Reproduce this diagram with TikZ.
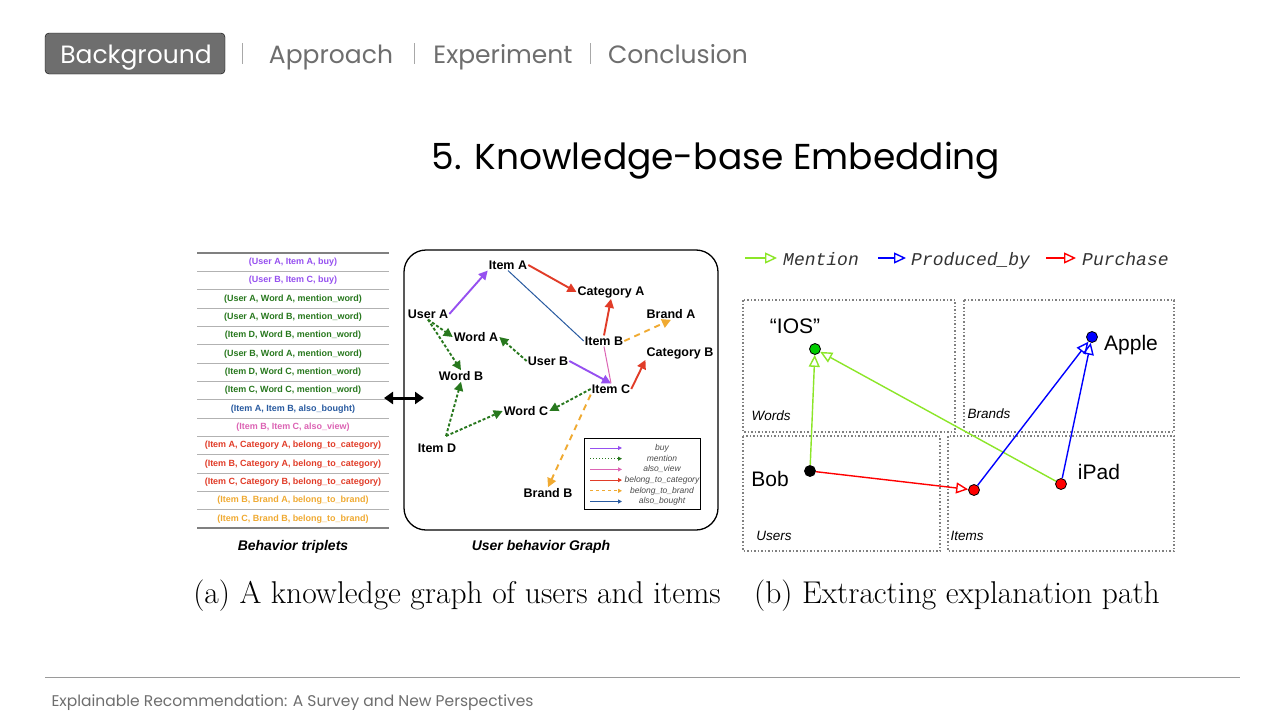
\documentclass[tikz,border=0pt]{standalone}
\usepackage{fontspec}
\newfontfamily\pop{Poppins}
\newfontfamily\lib{Liberation Sans}
\newfontfamily\cour{Liberation Mono}
\usetikzlibrary{arrows.meta}
\definecolor{hdr}{RGB}{110,110,110}
\definecolor{pur}{RGB}{150,80,240}
\definecolor{grn}{RGB}{40,120,30}
\definecolor{blu}{RGB}{40,90,160}
\definecolor{pnk}{RGB}{220,100,180}
\definecolor{rd}{RGB}{225,60,40}
\definecolor{org}{RGB}{240,170,50}
\definecolor{lgr}{RGB}{140,230,40}
\tikzset{
 trip/.style={font=\lib\bfseries\fontsize{10.5}{11}\selectfont},
 gn/.style={font=\lib\bfseries\fontsize{12.5}{13}\selectfont, inner sep=1pt},
 ar/.style={-{Triangle[length=9pt,width=9pt]}, line width=1.9pt},
 dsh/.style={ar, dashed, dash pattern=on 3pt off 2pt, grn},
 lg/.style={font=\lib\itshape\fontsize{8.5}{9}\selectfont},
 dot/.style={circle, draw=black, line width=0.8pt, minimum size=11pt, inner sep=0pt},
 ot/.style={-{Triangle[open,length=12pt,width=11pt]}, line width=1.4pt},
 box/.style={draw=gray, dotted, line width=1.5pt},
 pl/.style={font=\lib\itshape\fontsize{13.5}{14}\selectfont},
 bl/.style={font=\lib\fontsize{21}{21}\selectfont},
 hd/.style={text=hdr, font=\pop\fontsize{25}{25}\selectfont, anchor=base},
}
\begin{document}
\begin{tikzpicture}[x=1pt,y=-1pt]
\useasboundingbox[fill=white] (0,0) rectangle (1280,720);
% header
\draw[fill=hdr, rounded corners=4pt] (45,33) rectangle (225,74);
\node[hd, text=white] (bg) at (136,63) {Background};
\node[hd] (ap) at (331,63) {Approach};
\node[hd] (ex) at (503,63) {Experiment};
\node[hd] (co) at (678,63) {Conclusion};
\foreach \x in {242,414,590} \draw[hdr!60, line width=0.8pt] (\x,43) -- (\x,64);
\node[font=\pop\fontsize{36}{36}\selectfont, anchor=base] (title) at (716,169) {5. Knowledge-base Embedding};
\draw[hdr!70, line width=0.8pt] (45,677) -- (1240,677);
\node[anchor=base west, text=hdr, font=\pop\fontsize{15.5}{16}\selectfont] (foot) at (48,706) {Explainable Recommendation: A Survey and New Perspectives};
% triplet table
\foreach \i in {0,...,15} \draw[gray!60, line width=0.7pt] (197,253+\i*18.33) -- (389,253+\i*18.33);
\draw[gray, line width=1.3pt] (197,253) -- (389,253);
\draw[gray, line width=1.3pt] (197,528) -- (389,528);
\foreach \t/\c [count=\i from 0] in {
 {(User A, Item A, buy)}/pur, {(User B, Item C, buy)}/pur,
 {(User A, Word A, mention\_word)}/grn, {(User A, Word B, mention\_word)}/grn,
 {(Item D, Word B, mention\_word)}/grn, {(User B, Word A, mention\_word)}/grn,
 {(Item D, Word C, mention\_word)}/grn, {(Item C, Word C, mention\_word)}/grn,
 {(Item A, Item B, also\_bought)}/blu, {(Item B, Item C, also\_view)}/pnk,
 {(Item A, Category A, belong\_to\_category)}/rd, {(Item B, Category A, belong\_to\_category)}/rd,
 {(Item C, Category B, belong\_to\_category)}/rd,
 {(Item B, Brand A, belong\_to\_brand)}/org, {(Item C, Brand B, belong\_to\_brand)}/org}
 \node[trip, text=\c, inner sep=0pt] (t\i) at (293,262.2+\i*18.33) {\resizebox{!}{6.5pt}{\t}};
\node[font=\lib\bfseries\itshape\fontsize{14}{14}\selectfont] (cap1) at (293,547) {Behavior triplets};
\node[font=\lib\bfseries\itshape\fontsize{14}{14}\selectfont] (cap2) at (541,547) {User behavior Graph};
\coordinate (dl) at (384,398); \coordinate (dr) at (424,398);
\draw[{Triangle[length=9pt,width=12pt]}-{Triangle[length=9pt,width=12pt]}, line width=3pt] (dl) -- (dr);
% graph
\draw[line width=1.3pt, rounded corners=22pt] (404,250) rectangle (718,530);
\node[gn] (ia) at (508,265) {Item A};
\node[gn] (ca) at (611,292) {Category A};
\node[gn] (ua) at (428,314) {User A};
\node[gn] (wa) at (476,337) {Word A};
\node[gn] (ba) at (671,314) {Brand A};
\node[gn] (ib) at (604,341) {Item B};
\node[gn] (ub) at (548,361) {User B};
\node[gn] (cb) at (680,353) {Category B};
\node[gn] (wb) at (461,376) {Word B};
\node[gn] (ic) at (611,389) {Item C};
\node[gn] (wc) at (526,411) {Word C};
\node[gn] (id) at (437,448) {Item D};
\node[gn] (bb) at (548,493) {Brand B};
\draw[ar, pur] (ua.east) -- (ia.south west);
\draw[ar, pur] (ub.east) -- (ic.north);
\draw[ar, rd] (ia.east) -- (ca.west);
\draw[ar, rd] (ib.north) -- (ca.south);
\draw[ar, rd] (ic.east) -- (cb.south west);
\draw[line width=1pt, blu] (ia.south) -- (ib.west);
\draw[line width=1pt, pnk] (ib.south) -- (ic.north);
\draw[ar, org, dashed, dash pattern=on 6pt off 5pt] (ib.east) -- (ba.south);
\draw[ar, org, dashed, dash pattern=on 6pt off 5pt] (ic.south west) -- (bb.north);
\draw[dsh] (ua.south) -- (wa.west);
\draw[dsh] (ua.south) -- (wb.north);
\draw[dsh] (ub.west) -- (wa.east);
\draw[dsh] (ic.west) -- (wc.east);
\coordinate (dc) at (446,436);
\draw[dsh] (dc) -- (wb.south);
\draw[dsh] (dc) -- (wc.west);
% legend
\draw[line width=1pt] (584,438) rectangle (700,509);
\foreach \c/\s/\t [count=\i from 0] in {pur/solid/buy, grn/dotted/mention, pnk/solid/also\_view, rd/solid/belong\_to\_category, org/dashed/belong\_to\_brand, blu/solid/also\_bought}{
 \coordinate (la\i) at (590,448+\i*10.7); \coordinate (lb\i) at (622,448+\i*10.7);
 \draw[\c, line width=1pt, \s, -{Triangle[length=4pt,width=4pt]}] (la\i) -- (lb\i);
 \node[lg, text=gray!60!black] (lt\i) at (662,448+\i*10.7) {\t};}
% captions
\node[font=\fontsize{31.5}{32}\selectfont, anchor=base] (capa) at (457,603) {(a) A knowledge graph of users and items};
\node[font=\fontsize{31.5}{32}\selectfont, anchor=base] (capb) at (957,603) {(b) Extracting explanation path};
% right panel legend
\foreach \c/\xa/\xb/\xt/\t in {lgr/745/777/783/Mention, blue/878/906/911/Produced\_by, red/1046/1076/1082/Purchase}{
 \coordinate (ra\c) at (\xa,258); \coordinate (rb\c) at (\xb,258);
 \draw[ot, \c] (ra\c) -- (rb\c);
 \node[anchor=base west, inner sep=0pt, text=black!80, font=\cour\itshape\fontsize{18}{19}\selectfont] (rt\c) at (\xt,265) {\t};}
% boxes
\draw[box] (743,300) rectangle (955,432);
\draw[box] (964,300) rectangle (1174,432);
\draw[box] (743,436) rectangle (940,551);
\draw[box] (948,436) rectangle (1174,551);
\node[pl] (lw) at (771,416) {Words};
\node[pl] (lbr) at (989,414) {Brands};
\node[pl] (lu) at (774,536) {Users};
\node[pl] (li) at (967,536) {Items};
\node[dot, fill=green!80!black] (ios) at (815,349) {};
\node[dot, fill=blue] (apple) at (1092,337) {};
\node[dot, fill=black] (bob) at (810,471) {};
\node[dot, fill=red] (item) at (974,490) {};
\node[dot, fill=red] (ipad) at (1061,484) {};
\node[bl] (lios) at (795,326) {“IOS”};
\node[bl] (lapple) at (1131,345) {Apple};
\node[bl] (lbob) at (770,479) {Bob};
\node[bl] (lipad) at (1099,472) {iPad};
\draw[ot, lgr] (bob) -- (ios);
\draw[ot, lgr] (ipad) -- (ios);
\draw[ot, red] (bob) -- (item);
\draw[ot, blue] (item) -- (apple);
\draw[ot, blue] (ipad) -- (apple);
\end{tikzpicture}
\end{document}
